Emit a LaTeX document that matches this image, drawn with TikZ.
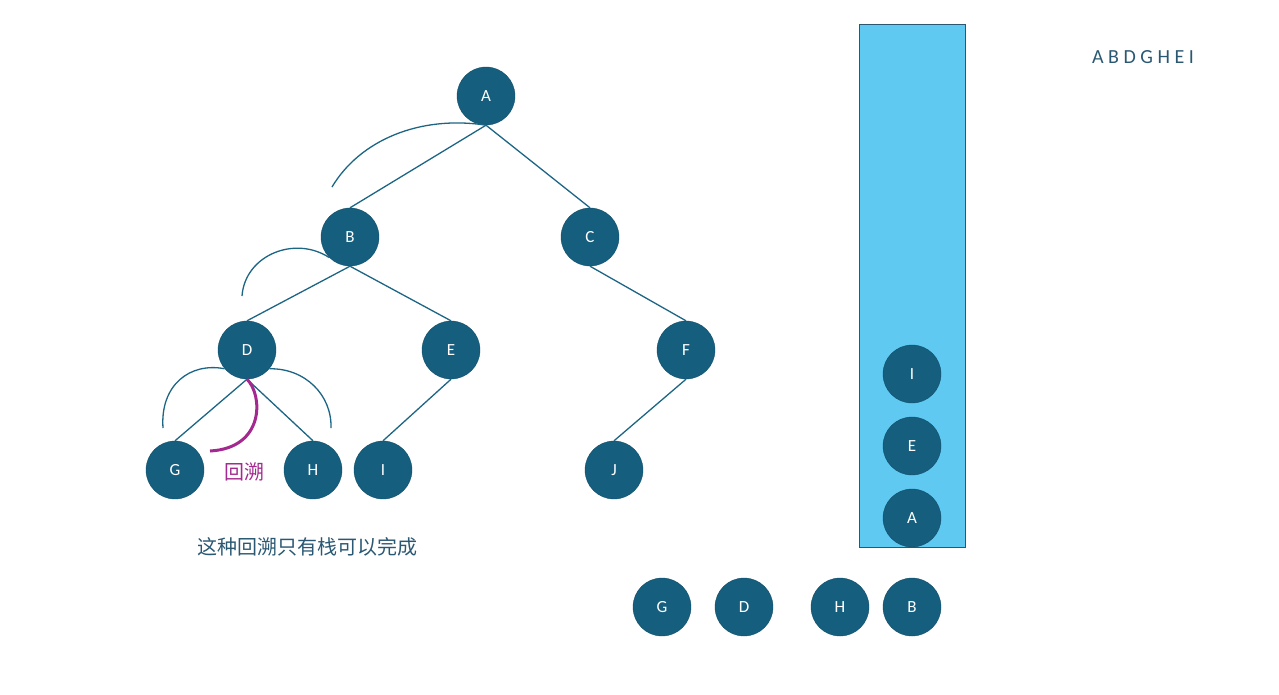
\documentclass[tikz,border=0pt]{standalone}
\usepackage{fontspec}
\setmainfont{Carlito}
\newfontfamily\cjk{Noto Sans CJK SC}
\usetikzlibrary{positioning}
\definecolor{navy}{HTML}{155E7E}
\definecolor{edgec}{HTML}{1D6585}
\definecolor{stackbg}{HTML}{5FC9F2}
\definecolor{purp}{HTML}{A3288F}
\definecolor{txtc}{HTML}{2A5873}

\begin{document}
\begin{tikzpicture}[x=1pt,y=-1pt,
  vtx/.style={circle,fill=navy,draw=navy!85!black,line width=.4pt,minimum size=58pt,inner sep=0pt,text=white,font=\fontsize{17}{17}\selectfont},
  tree/.style={draw=edgec,line width=1.3pt}]
\useasboundingbox (0,0) rectangle (1279,694);
% stack
\fill[stackbg] (859,24) rectangle (965,547);\draw[txtc,line width=.8pt] (859,24) rectangle (965,547);
% tree
\node[vtx] (A) at (486,96){A};
\node[vtx] (B) at (350,237){B};\node[vtx] (C) at (590,237){C};
\node[vtx] (D) at (247,350){D};\node[vtx] (E) at (451,350){E};\node[vtx] (F) at (686,350){F};
\node[vtx] (G) at (175,470){G};\node[vtx] (H) at (313,470){H};\node[vtx] (I) at (383,470){I};\node[vtx] (J) at (614,470){J};
\foreach \p/\c in {A/B,A/C,B/D,B/E,C/F,D/G,D/H,E/I,F/J}{\draw[tree] (\p.south)--(\c.north);}
% arcs
\coordinate (arcA) at (332,187);\coordinate (arcB) at (242,296);
\coordinate (arcG) at (163,428);\coordinate (arcH) at (331,428);\coordinate (back) at (210,451);
\draw[tree] (A.south) .. controls (420,115) and (360,140) .. (arcA);
\draw[tree] (arcB) .. controls (245,255) and (295,235) .. (B.south west);
\draw[tree] (D.220) .. controls (190,362) and (160,385) .. (arcG);
\draw[tree] (D.320) .. controls (305,368) and (332,395) .. (arcH);
\draw[purp,line width=3pt] (D.south) .. controls (263,395) and (265,448) .. (back);
\node[text=purp,font=\cjk\fontsize{20}{20}\selectfont] (bt) at (244,472){回溯};
\node[text=txtc,font=\cjk\fontsize{20}{20}\selectfont] (note) at (307,547){这种回溯只有栈可以完成};
% stack content
\node[vtx] (sI) at (912,374){I};\node[vtx] (sE) at (912,446){E};\node[vtx] (sA) at (912,518){A};
% popped
\node[vtx] (pG) at (662,607){G};\node[vtx] (pD) at (744,607){D};\node[vtx] (pH) at (840,607){H};\node[vtx] (pB) at (912,607){B};
\node[text=txtc,font=\fontsize{20}{20}\selectfont] (order) at (1143,57){A B D G H E I};
\end{tikzpicture}
\end{document}
